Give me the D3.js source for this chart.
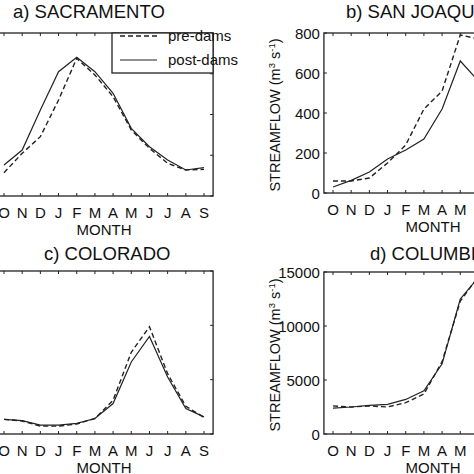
<!DOCTYPE html>
<html><head><meta charset="utf-8">
<script src="https://cdn.jsdelivr.net/npm/d3@7"></script>
<style>body{margin:0;background:#fff}svg{display:block}text{font-family:Arial,"Liberation Sans",sans-serif;fill:#111}</style>
</head><body>
<script>
const months = ["O","N","D","J","F","M","A","M","J","J","A","S"];
const sacPre  = [286,524,728,1178,1689,1485,1219,810,585,401,319,327];
const sacPost = [380,564,1055,1525,1701,1525,1260,830,605,442,319,348];
const sjPre   = [60,60,75,150,240,420,510,790,770,500,250,100];
const sjPost  = [30,63,105,170,215,270,420,660,560,400,200,80];
const colPre  = [54,48,29,29,37,57,124,301,395,222,102,61];
const colPost = [54,49,33,33,39,57,112,265,359,210,94,63];
const colmPre  = [2600,2500,2600,2500,2900,3700,6700,12300,14600,11000,6000,3500];
const colmPost = [2400,2500,2650,2750,3200,4000,6500,12500,14500,11000,6000,3500];
const titles = ["a) SACRAMENTO","b) SAN JOAQUIN","c) COLORADO","d) COLUMBIA"];

const svg = d3.select("body").append("svg").attr("width",474).attr("height",474);

function panel(o){
  const g = svg.append("g");
  const x = d3.scaleLinear().domain([1,12]).range([o.x0, o.x0+200]);
  const y = d3.scaleLinear().domain(o.dom).range([o.bot, o.top]);
  const L = x(0.5), R = x(12.5);
  g.append("rect").attr("x",L).attr("y",o.top).attr("width",R-L).attr("height",o.bot-o.top)
    .attr("fill","none").attr("stroke","#222").attr("stroke-width",1.3);
  months.forEach((m,i)=>{
    const xi = x(i+1);
    g.append("line").attr("x1",xi).attr("x2",xi).attr("y1",o.bot).attr("y2",o.bot-3).attr("stroke","#222");
    g.append("line").attr("x1",xi).attr("x2",xi).attr("y1",o.top).attr("y2",o.top+3).attr("stroke","#222");
    g.append("text").attr("x",xi).attr("y",o.bot+22).attr("text-anchor","middle").attr("font-size",15).text(m);
  });
  g.append("text").attr("x",(x(1)+x(12))/2).attr("y",o.bot+39).attr("text-anchor","middle").attr("font-size",15).text("MONTH");
  y.ticks(o.nt).forEach(t=>{
    const yt = y(t);
    g.append("line").attr("x1",L).attr("x2",L+3).attr("y1",yt).attr("y2",yt).attr("stroke","#222");
    g.append("line").attr("x1",R).attr("x2",R-3).attr("y1",yt).attr("y2",yt).attr("stroke","#222");
    if (o.labels) g.append("text").attr("x",L-4).attr("y",yt+5.5).attr("text-anchor","end").attr("font-size",15).text(t);
  });
  if (o.labels) {
    const yl = g.append("text").attr("transform",`translate(${L-44},${(o.top+o.bot)/2+2}) rotate(-90)`)
      .attr("text-anchor","middle").attr("font-size",14.5);
    yl.append("tspan").text("STREAMFLOW (m");
    yl.append("tspan").attr("baseline-shift","super").attr("font-size",9.5).text("3");
    yl.append("tspan").text(" s");
    yl.append("tspan").attr("baseline-shift","super").attr("font-size",9.5).text("-1");
    yl.append("tspan").text(")");
  }
  const line = d3.line().x((d,i)=>x(i+1)).y(d=>y(d));
  g.append("path").datum(o.pre).attr("d",line).attr("fill","none").attr("stroke","#222")
    .attr("stroke-width",1.4).attr("stroke-dasharray","5,3");
  g.append("path").datum(o.post).attr("d",line).attr("fill","none").attr("stroke","#222").attr("stroke-width",1.2);
  g.append("text").attr("x",o.tx).attr("y",o.ty).attr("font-size",18.5).text(o.title);
  return {g,x,y,L,R};
}

const a = panel({x0:4, top:33, bot:196, dom:[0,2000], nt:4, pre:sacPre, post:sacPost, title:titles[0], tx:13, ty:18, labels:false});
panel({x0:333, top:33, bot:193, dom:[0,800], nt:4, pre:sjPre, post:sjPost, title:titles[1], tx:346, ty:18, labels:true});
panel({x0:4, top:271, bot:434, dom:[0,600], nt:3, pre:colPre, post:colPost, title:titles[2], tx:44, ty:260, labels:false});
panel({x0:333, top:272, bot:434, dom:[0,15000], nt:3, pre:colmPre, post:colmPost, title:titles[3], tx:370, ty:260, labels:true});

const lg = a.g.append("g");
lg.append("rect").attr("x",112).attr("y",33).attr("width",a.R-112).attr("height",40)
  .attr("fill","#fff").attr("stroke","#222").attr("stroke-width",1.3);
lg.append("line").attr("x1",120).attr("x2",157).attr("y1",36).attr("y2",36).attr("stroke","#222").attr("stroke-width",1.4).attr("stroke-dasharray","5,3");
lg.append("text").attr("x",168).attr("y",41).attr("font-size",15).text("pre-dams");
lg.append("line").attr("x1",120).attr("x2",157).attr("y1",60).attr("y2",60).attr("stroke","#222").attr("stroke-width",1.2);
lg.append("text").attr("x",168).attr("y",65).attr("font-size",15).text("post-dams");
</script>
</body></html>
